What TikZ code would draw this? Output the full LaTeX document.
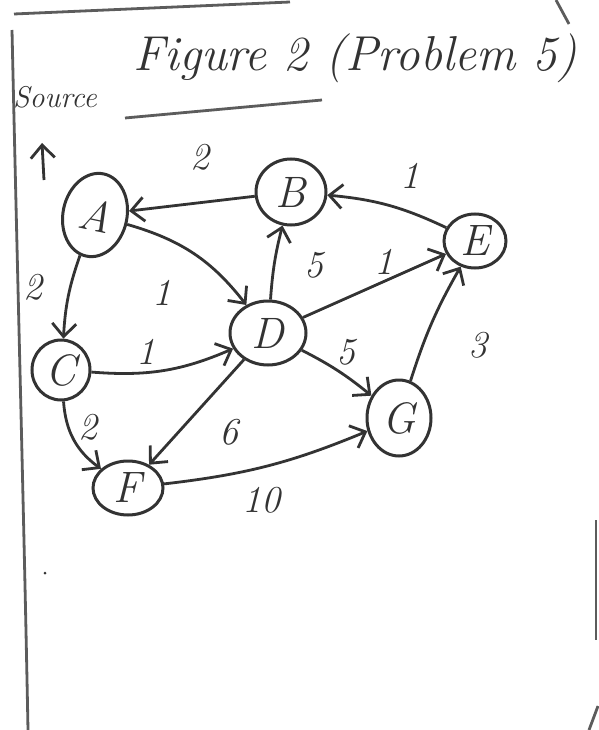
\documentclass[tikz,border=0pt]{standalone}
\usepackage{amsmath, amssymb}
\usepackage{xcolor}
\usetikzlibrary{shapes.geometric, arrows.meta}

\definecolor{pencil}{HTML}{333333}

\tikzset{
  vertex/.style={draw=pencil, ellipse, line width=3pt, inner sep=0pt,
    font=\fontsize{44}{46}\selectfont\itshape, text=pencil},
  edge/.style={draw=pencil, line width=2.8pt,
    -{Straight Barb[length=13pt, width=24pt, line width=2.8pt]}},
  weight/.style={font=\fontsize{38}{40}\selectfont\itshape, text=pencil},
  border/.style={draw=pencil!80, line width=2.8pt}
}

\begin{document}
\begin{tikzpicture}[x=1pt, y=-1pt]
    \useasboundingbox (0,0) rectangle (598,730);

    % Page edges
    \draw[border] (12,30) .. controls (18,300) and (24,520) .. (28,730);
    \draw[border] (14,14) -- (290,2);
    \draw[border] (556,0) -- (569,24);
    \draw[border] (596,520) -- (596,640);
    \draw[border] (589,730) -- (598,706);
    \fill[pencil] (45,573) circle (1.5);

    % Title
    \node[text=pencil, font=\fontsize{49}{51}\selectfont\itshape] (title) at (355,58) {Figure 2 (Problem 5)};
    \draw[border] (125,118) -- (322,100);
    \node[text=pencil, font=\fontsize{30}{32}\selectfont\itshape] (source) at (55,97) {Source};
    \coordinate (sbot) at (44,180);
    \coordinate (stop) at (42,143);
    \draw[edge] (sbot) -- (stop);

    % Vertices
    \node[vertex, minimum width=64pt, minimum height=84pt, rotate=-12] (A) at (95,215) {A};
    \node[vertex, minimum width=70pt, minimum height=66pt] (B) at (291,192) {B};
    \node[vertex, minimum width=62pt, minimum height=54pt] (E) at (475,241) {E};
    \node[vertex, minimum width=58pt, minimum height=60pt] (C) at (61,370) {C};
    \node[vertex, minimum width=76pt, minimum height=64pt] (D) at (268,333) {D};
    \node[vertex, minimum width=64pt, minimum height=76pt] (G) at (399,418) {G};
    \node[vertex, minimum width=70pt, minimum height=54pt] (F) at (128,488) {F};

    % Edges
    \draw[edge] (B) -- (A);
    \draw[edge] (E) to[bend right=10] (B);
    \draw[edge] (A) to[bend left=18] (D);
    \draw[edge] (A) to[bend right=8] (C);
    \draw[edge] (D) to[bend left=5] (B);
    \draw[edge] (D) -- (E);
    \draw[edge] (C) to[bend right=14] (D);
    \draw[edge] (D) to[bend left=6] (G);
    \draw[edge] (D) -- (F);
    \draw[edge] (C) to[bend right=25] (F);
    \draw[edge] (F) to[bend right=8] (G);
    \draw[edge] (G) to[bend left=6] (E);

    % Weights
    \node[weight] (wBA) at (200,157) {2};
    \node[weight] (wEB) at (410,176) {1};
    \node[weight] (wAC) at (33,287) {2};
    \node[weight] (wAD) at (162,293) {1};
    \node[weight] (wDB) at (314,265) {5};
    \node[weight] (wDE) at (384,262) {1};
    \node[weight] (wCD) at (146,352) {1};
    \node[weight] (wDG) at (346,352) {5};
    \node[weight] (wGE) at (478,345) {3};
    \node[weight] (wDF) at (229,432) {6};
    \node[weight] (wCF) at (88,427) {2};
    \node[weight] (wFG) at (261,500) {10};

\end{tikzpicture}
\end{document}
